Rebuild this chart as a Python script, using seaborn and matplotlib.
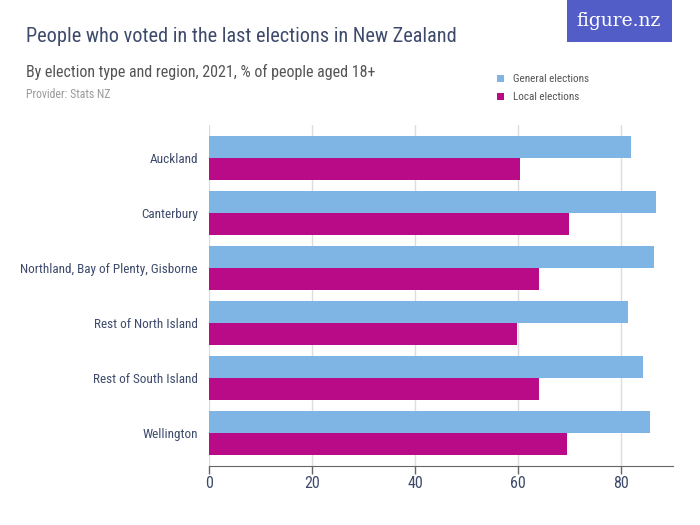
import numpy as np
import pandas as pd
import matplotlib
matplotlib.use("Agg")
import matplotlib.pyplot as plt
from matplotlib.patches import Rectangle, Patch
import seaborn as sns

regions = ["Auckland", "Canterbury", "Northland, Bay of Plenty, Gisborne",
           "Rest of North Island", "Rest of South Island", "Wellington"]
general = [81.8, 86.8, 86.3, 81.2, 84.1, 85.6]
local = [60.4, 69.9, 64.0, 59.8, 64.1, 69.5]
series = ["General elections", "Local elections"]
colors = ["#7eb5e5", "#b90b88"]

df = pd.DataFrame({
    "region": regions * 2,
    "value": general + local,
    "type": [series[0]] * len(regions) + [series[1]] * len(regions),
})

sns.set_style("white")
plt.rcParams['font.family'] = ['Roboto Condensed', 'DejaVu Sans']

text_col = "#3d4a6b"

fig = plt.figure(figsize=(7, 5.25), dpi=100)
ax = fig.add_axes([0.2986, 0.1124, 0.6628, 0.6495])

sns.barplot(data=df, x="value", y="region", hue="type", palette=colors,
            width=0.8, saturation=1, linewidth=0, ax=ax, legend=False, zorder=3)

ax.set_xlim(0, 90)
ax.set_ylim(5.6, -0.6)
ax.set_xticks([0, 20, 40, 60, 80])
ax.set_xlabel("")
ax.set_ylabel("")
ax.grid(axis="x", color="#dddddd", linewidth=1, zorder=0)
ax.grid(axis="y", visible=False)
for s in ["top", "right", "left"]:
    ax.spines[s].set_visible(False)
ax.spines["bottom"].set_color("#666666")
ax.tick_params(axis="x", colors="#666666", length=6, width=1, labelsize=11.5,
               labelcolor=text_col, pad=1.5, bottom=True)
ax.tick_params(axis="y", length=0, labelsize=9.5, labelcolor=text_col, pad=8)

fig.text(26 / 700, 1 - 37 / 525, "People who voted in the last elections in New Zealand",
         fontsize=14.6, color=text_col, va="center", ha="left")
fig.text(26 / 700, 1 - 72 / 525, "By election type and region, 2021, % of people aged 18+",
         fontsize=11.5, color="#555555", va="center", ha="left")
fig.text(26 / 700, 1 - 95 / 525, "Provider: Stats NZ",
         fontsize=8.5, color="#999999", va="center", ha="left")

handles = [Patch(facecolor=c, edgecolor="none") for c in colors]
fig.legend(handles, series, loc="upper left", bbox_to_anchor=(487 / 700, 1 - 64 / 525),
           frameon=False, fontsize=8, handlelength=0.6, handleheight=0.6,
           handletextpad=0.8, labelspacing=0.75, labelcolor="#555555")

fig.patches.append(Rectangle((567 / 700, 1 - 42 / 525), 105 / 700, 42 / 525,
                             transform=fig.transFigure, facecolor="#535dc7",
                             edgecolor="none"))
fig.text(619 / 700, 1 - 21 / 525, "figure.nz", fontsize=13.5, color="white",
         family="DejaVu Serif", ha="center", va="center")

fig.savefig("out.png", dpi=100)
